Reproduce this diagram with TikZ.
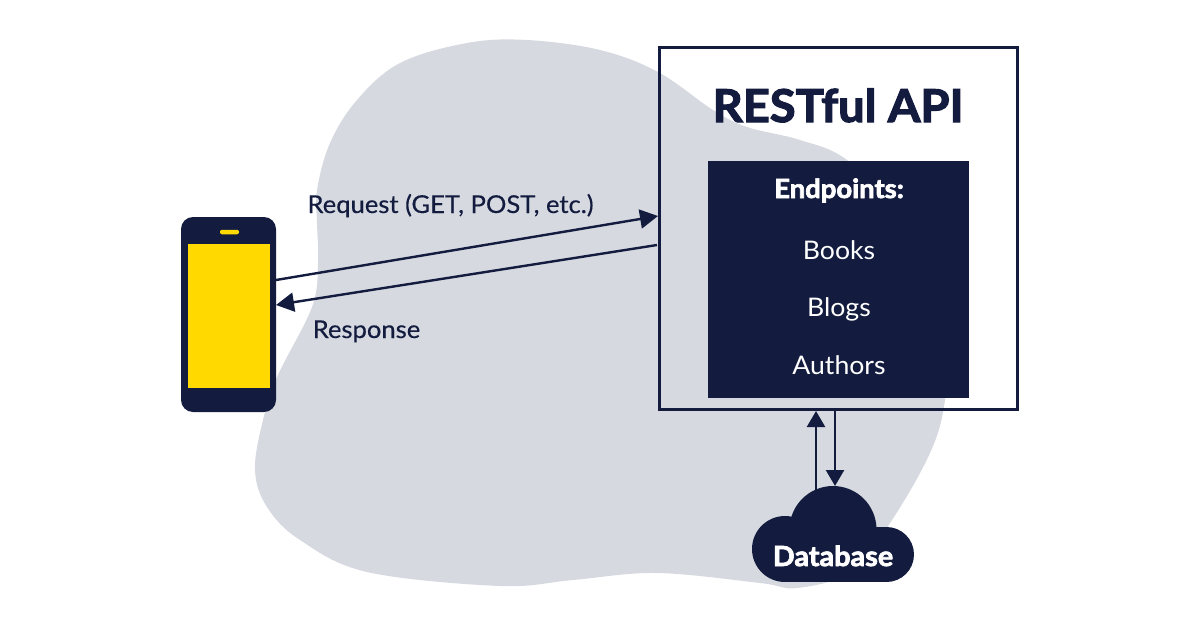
\documentclass[tikz,border=0pt]{standalone}
\usepackage{fontspec}
\setmainfont[FakeStretch=1.04]{Lato}
\newfontfamily\midfont[FakeStretch=1.04,FakeBold=0.35]{Lato}
\newfontfamily\heavyfont[FakeStretch=1.04,BoldFeatures={FakeBold=2.6}]{Lato}
\usetikzlibrary{arrows.meta}
\definecolor{navy}{HTML}{131C3F}
\definecolor{blob}{HTML}{D6D9E0}
\definecolor{phoneyellow}{HTML}{FFD900}
\begin{document}
\begin{tikzpicture}[
		x=1pt,y=-1pt,
		every node/.style={inner sep=0pt,outer sep=0pt},
		label/.style={text=navy,anchor=base,font=\fontsize{24.6}{28}\midfont},
		entry/.style={text=white,anchor=base,font=\fontsize{25.6}{30}\selectfont},
		heading/.style={text=white,anchor=base,font=\fontsize{#1}{30}\heavyfont\bfseries},
		flow/.style={draw=navy,line width=2.4pt,-{Triangle[length=18pt,width=19pt]}},
		dbflow/.style={draw=navy,line width=2.4pt,-{Triangle[length=16pt,width=18pt]}},
		puff/.style={circle,fill=navy}
	]
	\useasboundingbox (0,0) rectangle (1201,629);
	% background shape
	\fill[blob] plot[smooth cycle,tension=0.6] coordinates {
			(527,40) (600,50) (658,72) (713,110) (747,127) (800,140) (847,160) (910,220)
			(948,330) (945,400) (930,453) (890,523) (850,572) (797,588) (760,583) (657,573)
			(573,580) (500,586) (367,572) (300,540) (267,507) (255,470) (263,420) (277,377)
			(312,307) (318,263) (317,223) (317,190) (330,143) (357,100) (400,63) (467,43)
		};

	% phone
	\node[fill=navy,rounded corners=12pt,minimum width=95pt,minimum height=195pt] (phone) at (228.5,314.5) {};
	\node[fill=phoneyellow,minimum width=82pt,minimum height=144pt] (screen) at (229,316) {};
	\node[fill=phoneyellow,rounded corners=2pt,minimum width=19pt,minimum height=4.5pt] (speaker) at (229.5,232) {};

	% api box
	\node[draw=navy,line width=3.2pt,minimum width=358pt,minimum height=362pt] (api) at (838.5,228.5) {};
	\node[heading=45.2,text=navy] (title) at (838,122) {RESTful API};
	\node[fill=navy,minimum width=261pt,minimum height=237pt] (endpoints) at (838.5,279.5) {};
	\node[heading=26.4] (head) at (839,198) {Endpoints:};
	\node[entry] (books) at (839,259) {Books};
	\node[entry] (blogs) at (839,316) {Blogs};
	\node[entry] (authors) at (839,374) {Authors};

	% cloud
	\node[puff,minimum size=87pt] (cloudtop) at (833,529.5) {};
	\node[puff,minimum size=66pt] (cloudleft) at (785,549) {};
	\node[puff,minimum size=55pt] (cloudright) at (886.5,554.5) {};
	\fill[navy] (cloudleft.south) rectangle (cloudright.north);
	\node[heading=27.7] (db) at (833,566) {Database};

	% free ends of the connectors
	\coordinate (reqstart) at (276,280);
	\coordinate (reqend) at (658,216);
	\coordinate (resstart) at (657,245);
	\coordinate (resend) at (276,305);
	\coordinate (dbup) at (816,411);
	\coordinate (dbupstart) at (816,490);
	\coordinate (dbdown) at (835,411);
	\coordinate (dbdownend) at (835,486);

	\draw[flow] (reqstart) -- (reqend);
	\draw[flow] (resstart) -- (resend);
	\draw[dbflow] (dbupstart) -- (dbup);
	\draw[dbflow] (dbdown) -- (dbdownend);

	\node[label] (request) at (450.5,213) {Request (GET, POST, etc.)};
	\node[label] (response) at (366.5,338) {Response};
\end{tikzpicture}
\end{document}
